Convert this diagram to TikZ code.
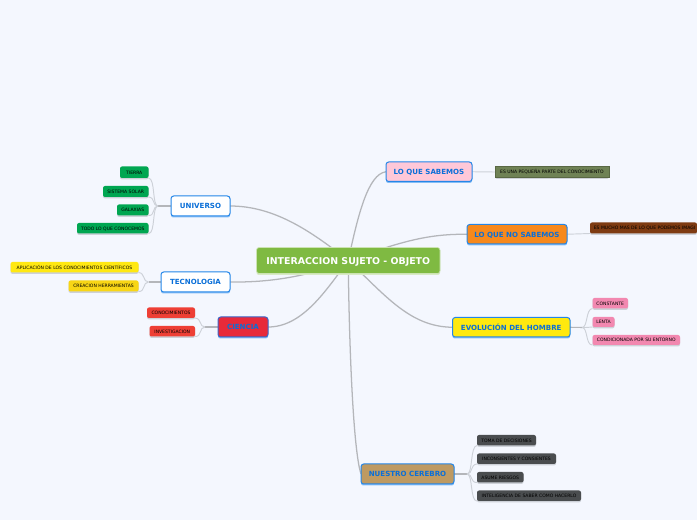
\documentclass[tikz,border=0pt]{standalone}
\usepackage{fontspec}
\setmainfont{DejaVu Sans}
\usetikzlibrary{backgrounds}
\definecolor{pagebg}{HTML}{F4F7FE}
\definecolor{mainline}{HTML}{B4B6BA}
\definecolor{thinline}{HTML}{CDD1D8}
\definecolor{bluetxt}{HTML}{0A6FD8}
\definecolor{blueedge}{HTML}{2486E8}
\definecolor{blueshadow}{HTML}{86BDF5}
\definecolor{cgreen}{HTML}{7FBA42}
\definecolor{lgreen}{HTML}{00A651}
\definecolor{lyellow}{HTML}{FFE812}
\definecolor{lgold}{HTML}{F8D616}
\definecolor{lred}{HTML}{EE3F35}
\definecolor{lolive}{HTML}{6F8255}
\definecolor{lbrown}{HTML}{7E3B12}
\definecolor{lpink}{HTML}{F288B0}
\definecolor{ldark}{HTML}{4A4D4F}
\definecolor{leaftxt}{HTML}{000000}
\tikzset{
  x=0.75pt,y=-0.75pt,
  boxbase/.style={rectangle,inner sep=0pt,outer sep=0pt,rounded corners=1.5pt},
  centralbox/.style={boxbase,fill=cgreen,draw=white!60!cgreen,line width=0.5pt,text=white,font=\fontsize{7.05}{8}\selectfont\bfseries,rounded corners=2pt,text height=5.7pt,text depth=0pt},
  branchbox/.style={boxbase,draw=blueedge,line width=0.75pt,text=bluetxt,font=\fontsize{5.3}{6}\selectfont\bfseries,rounded corners=2pt,text height=4.5pt,text depth=0pt},
  leafbox/.style={boxbase,text=leaftxt,font=\fontsize{3.4}{4}\selectfont,text height=2.9pt,text depth=0pt},
  mainlink/.style={draw=mainline,line width=0.95pt},
  stublink/.style={draw=mainline,line width=0.8pt},
  thinlink/.style={draw=thinline,line width=0.7pt},
}
% name, style, x1, y1, x2, y2, shadow colour, text
\newcommand{\mapnode}[8]{%
  \fill[#7,rounded corners=1.5pt] (#3,#4+1) rectangle (#5,#6+1.4);
  \node[#2,minimum width={(#5-#3)*0.75pt},minimum height={(#6-#4)*0.75pt}] (#1) at ({(#3+#5)/2},{(#4+#6)/2}) {#8};
}
\newcommand{\leftleaf}[2]{\draw[thinlink] (#1.south east) .. controls +(7,0.5) and +(-6,0) .. (#2);}
\newcommand{\rightleaf}[2]{\draw[thinlink] (#1.south west) .. controls +(-7,0.5) and +(6,0) .. (#2);}
\begin{document}
\begin{tikzpicture}
\useasboundingbox (0,0) rectangle (697,520);
% nodes
\mapnode{cen}{centralbox}{256.5}{247.5}{440}{273.5}{white!70!cgreen}{INTERACCION SUJETO - OBJETO}
\mapnode{uni}{branchbox,fill=white}{171}{196}{230}{216}{blueshadow}{UNIVERSO}
\mapnode{tec}{branchbox,fill=white}{161}{272}{230}{292}{blueshadow}{TECNOLOGIA}
\mapnode{cie}{branchbox,fill={rgb,255:red,232;green,42;blue,58},draw={rgb,255:red,58;green,102;blue,200}}{218}{317}{268}{337}{blueshadow}{CIENCIA}
\mapnode{sab}{branchbox,fill={rgb,255:red,255;green,200;blue,216}}{386}{162}{472}{181.5}{blueshadow}{LO QUE SABEMOS}
\mapnode{nos}{branchbox,fill={rgb,255:red,247;green,137;blue,28}}{467}{224.5}{567}{244}{blueshadow}{LO QUE NO SABEMOS}
\mapnode{evo}{branchbox,fill={rgb,255:red,255;green,233;blue,15}}{452.5}{317.5}{570}{337}{blueshadow}{EVOLUCIÓN DEL HOMBRE}
\mapnode{cer}{branchbox,fill={rgb,255:red,190;green,154;blue,98}}{361}{464}{454}{484}{blueshadow}{NUESTRO CEREBRO}
% leaves
\mapnode{tie}{leafbox,fill=lgreen}{120}{166.5}{148.5}{178}{thinline}{TIERRA}
\mapnode{sis}{leafbox,fill=lgreen}{103}{186}{148.5}{197}{thinline}{SISTEMA SOLAR}
\mapnode{gal}{leafbox,fill=lgreen}{117}{204.5}{148.5}{215.5}{thinline}{GALAXIAS}
\mapnode{tod}{leafbox,fill=lgreen}{77}{223}{148.5}{233.5}{thinline}{TODO LO QUE CONOCEMOS}
\mapnode{apl}{leafbox,fill=lyellow}{10.5}{262}{138.5}{272.5}{thinline}{APLICACIÓN DE LOS CONOCIMIENTOS CIENTÍFICOS}
\mapnode{cre}{leafbox,fill=lgold}{68.5}{280.5}{138.5}{291.5}{thinline}{CREACION HERRAMIENTAS}
\mapnode{con}{leafbox,fill=lred}{147}{307.5}{195}{318}{thinline}{CONOCIMIENTOS}
\mapnode{inv}{leafbox,fill=lred}{149.5}{326}{195}{336.5}{thinline}{INVESTIGACION}
\mapnode{peq}{leafbox,fill=lolive,draw=lolive!80!black,line width=0.4pt,sharp corners}{495}{166.5}{609}{177.5}{thinline}{ES UNA PEQUEÑA PARTE DEL CONOCIMIENTO}
\mapnode{muc}{leafbox,fill=lbrown}{590}{222.5}{697}{233.5}{thinline}{\hspace*{1.5pt}ES MUCHO MAS DE LO QUE PODEMOS IMAGI}
\mapnode{cns}{leafbox,fill=lpink}{592.5}{298}{628}{308.5}{thinline}{CONSTANTE}
\mapnode{len}{leafbox,fill=lpink}{592.5}{317}{614.5}{327}{thinline}{LENTA}
\mapnode{cnd}{leafbox,fill=lpink}{592.5}{335}{680}{345}{thinline}{CONDICIONADA POR SU ENTORNO}
\mapnode{tom}{leafbox,fill=ldark}{477}{435}{536}{445.5}{thinline}{TOMA DE DECISIONES}
\mapnode{inc}{leafbox,fill=ldark}{477}{453.5}{556}{464}{thinline}{INCONSIENTES Y CONSIENTES}
\mapnode{asu}{leafbox,fill=ldark}{477}{472}{523.5}{482.5}{thinline}{ASUME RIESGOS}
\mapnode{int}{leafbox,fill=ldark}{477}{490.5}{581}{501}{thinline}{INTELIGENCIA DE SABER COMO HACERLO}
% junctions
\coordinate (ju) at (158,206);
\coordinate (jt) at (148.5,282);
\coordinate (jc) at (205,327);
\coordinate (je) at (582,327.5);
\coordinate (jn) at (467,474);
\begin{scope}[on background layer]
\fill[pagebg] (0,0) rectangle (697,520);
% main links
\draw[mainlink] (uni.east) .. controls (275,206) and (312,232) .. (cen.center);
\draw[mainlink] (tec.east) .. controls (265,282.5) and (305,278) .. (cen.center);
\draw[mainlink] (cie.east) .. controls (302,327) and (325,292) .. (cen.center);
\draw[mainlink] (sab.west) .. controls (368,174) and (358,215) .. (cen.center);
\draw[mainlink] (nos.west) .. controls (430,234) and (405,240) .. (cen.center);
\draw[mainlink] (evo.west) .. controls (410,327) and (385,295) .. (cen.center);
\draw[mainlink] (cer.west) .. controls (353,450) and (349,340) .. (cen.center);
% stubs
\draw[stublink] (uni.west) -- (ju);
\draw[stublink] (tec.west) -- (jt);
\draw[stublink] (cie.west) -- (jc);
\draw[stublink] (evo.east) -- (je);
\draw[stublink] (cer.east) -- (jn);
\draw[thinlink] (sab.east) -- (peq.west);
\draw[thinlink] (nos.east) -- (muc.south west);
% leaf links
\leftleaf{tie}{ju}\leftleaf{sis}{ju}\leftleaf{gal}{ju}\leftleaf{tod}{ju}
\leftleaf{apl}{jt}\leftleaf{cre}{jt}
\leftleaf{con}{jc}\leftleaf{inv}{jc}
\rightleaf{cns}{je}\rightleaf{len}{je}\rightleaf{cnd}{je}
\rightleaf{tom}{jn}\rightleaf{inc}{jn}\rightleaf{asu}{jn}\rightleaf{int}{jn}
\end{scope}
\end{tikzpicture}
\end{document}
